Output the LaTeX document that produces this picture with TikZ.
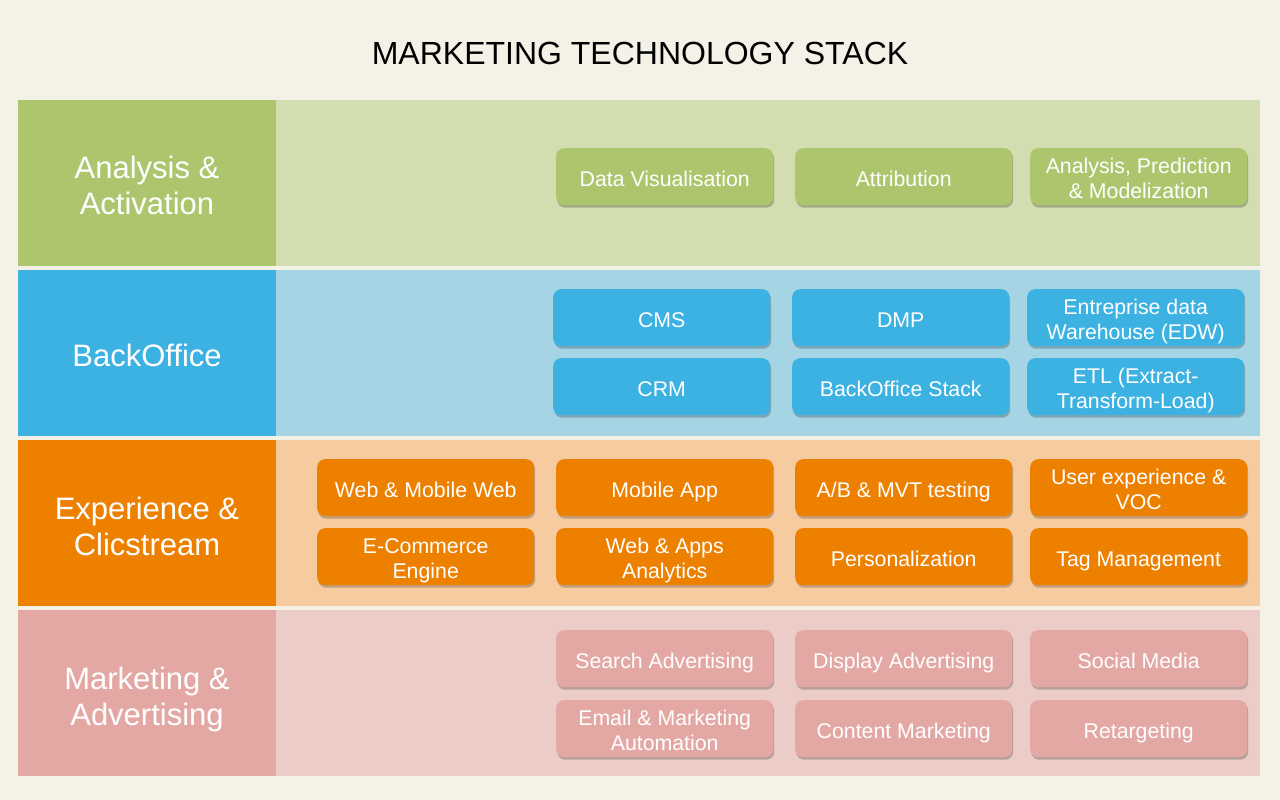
\documentclass[tikz,border=0pt]{standalone}
\usepackage{fontspec}
\setmainfont{Liberation Sans}
\usetikzlibrary{shadows}
\definecolor{bg}{HTML}{F4F1E6}
\definecolor{gD}{HTML}{ADC66E}
\definecolor{gL}{HTML}{D2DDB0}
\definecolor{bD}{HTML}{3CB2E2}
\definecolor{bL}{HTML}{A5D4E5}
\definecolor{oD}{HTML}{EE8000}
\definecolor{oL}{HTML}{F7CBA0}
\definecolor{pD}{HTML}{E3A8A4}
\definecolor{pL}{HTML}{EBCCC6}
\tikzset{
  item/.style={rounded corners=8pt, minimum width=217pt, minimum height=57pt, anchor=north west,
    inner sep=0pt,
    drop shadow={shadow xshift=1pt, shadow yshift=-2.5pt, opacity=0.22, fill=black}},
  itxt/.style={text=white, align=center, inner sep=0pt, text depth=0pt, font=\fontsize{21.3}{25}\selectfont},
  lab/.style={text=white, align=center, text depth=0pt, font=\fontsize{31}{36}\selectfont},
}
\newcommand\myitem[4]{%
  \node[item, fill=#3] (#1) at (#2) {};
  \node[itxt] (#1t) at ([yshift=-2pt]#1.center) {#4};}
\begin{document}
\begin{tikzpicture}[x=1pt,y=-1pt]
\fill[bg] (0,0) rectangle (1280,800);
\useasboundingbox (0,0) rectangle (1280,800);
\node[font=\fontsize{32}{36}\selectfont] (title) at (640,53) {MARKETING TECHNOLOGY STACK};
% bands
\fill[gL] (276,100) rectangle (1260,266);
\fill[gD] (18,100) rectangle (276,266);
\fill[bL] (276,270) rectangle (1260,436);
\fill[bD] (18,270) rectangle (276,436);
\fill[oL] (276,440) rectangle (1260,606);
\fill[oD] (18,440) rectangle (276,606);
\fill[pL] (276,610) rectangle (1260,776);
\fill[pD] (18,610) rectangle (276,776);
\node[lab] (l1) at (147,185) {Analysis \&\\Activation};
\node[lab] (l2) at (147,355) {BackOffice};
\node[lab] (l3) at (147,526) {Experience \&\\Clicstream};
\node[lab] (l4) at (147,696) {Marketing \&\\Advertising};
% band 1
\myitem{a1}{556,148}{gD}{Data Visualisation}
\myitem{a2}{795,148}{gD}{Attribution}
\myitem{a3}{1030,148}{gD}{Analysis, Prediction\\\& Modelization}
% band 2
\myitem{b1}{553,289}{bD}{CMS}
\myitem{b2}{792,289}{bD}{DMP}
\myitem{b3}{1027,289}{bD}{Entreprise data\\Warehouse (EDW)}
\myitem{b4}{553,358}{bD}{CRM}
\myitem{b5}{792,358}{bD}{BackOffice Stack}
\myitem{b6}{1027,358}{bD}{ETL (Extract-\\Transform-Load)}
% band 3
\myitem{c1}{317,459}{oD}{Web \& Mobile Web}
\myitem{c2}{556,459}{oD}{Mobile App}
\myitem{c3}{795,459}{oD}{A/B \& MVT testing}
\myitem{c4}{1030,459}{oD}{User experience \&\\VOC}
\myitem{c5}{317,528}{oD}{E-Commerce\\Engine}
\myitem{c6}{556,528}{oD}{Web \& Apps\\Analytics}
\myitem{c7}{795,528}{oD}{Personalization}
\myitem{c8}{1030,528}{oD}{Tag Management}
% band 4
\myitem{d1}{556,630}{pD}{Search Advertising}
\myitem{d2}{795,630}{pD}{Display Advertising}
\myitem{d3}{1030,630}{pD}{Social Media}
\myitem{d4}{556,700}{pD}{Email \& Marketing\\Automation}
\myitem{d5}{795,700}{pD}{Content Marketing}
\myitem{d6}{1030,700}{pD}{Retargeting}
\end{tikzpicture}
\end{document}
